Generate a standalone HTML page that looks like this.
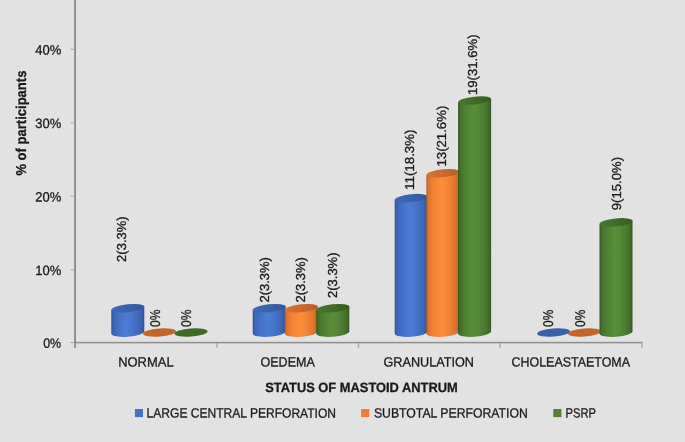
<!DOCTYPE html>
<html><head><meta charset="utf-8"><title>Status of mastoid antrum</title>
<style>
html,body{margin:0;padding:0;background:#e2e2e2;}
body{width:685px;height:442px;overflow:hidden;}
svg{display:block;font-family:"Liberation Sans",Arial,sans-serif;}
text{fill:#1a1a1a;stroke:#1a1a1a;stroke-width:0.3px;text-rendering:geometricPrecision;}
</style></head><body>
<svg width="685" height="442" viewBox="0 0 685 442">
<defs>
<linearGradient id="gb" x1="0" x2="1" y1="0" y2="0"><stop offset="0" stop-color="#2f5196"/><stop offset="0.06" stop-color="#3b64b4"/><stop offset="0.2" stop-color="#4370c6"/><stop offset="0.45" stop-color="#4b7cd4"/><stop offset="0.6" stop-color="#4877cf"/><stop offset="0.85" stop-color="#3d68ba"/><stop offset="0.95" stop-color="#365ca8"/><stop offset="1" stop-color="#2f5094"/></linearGradient>
<linearGradient id="go" x1="0" x2="1" y1="0" y2="0"><stop offset="0" stop-color="#b25d24"/><stop offset="0.06" stop-color="#dd742e"/><stop offset="0.2" stop-color="#f28235"/><stop offset="0.45" stop-color="#fd8c3b"/><stop offset="0.6" stop-color="#f98838"/><stop offset="0.85" stop-color="#e0762e"/><stop offset="0.95" stop-color="#cb6a29"/><stop offset="1" stop-color="#b05c23"/></linearGradient>
<linearGradient id="gg" x1="0" x2="1" y1="0" y2="0"><stop offset="0" stop-color="#2f5220"/><stop offset="0.06" stop-color="#437029"/><stop offset="0.2" stop-color="#4d7f31"/><stop offset="0.45" stop-color="#598d39"/><stop offset="0.6" stop-color="#568a37"/><stop offset="0.85" stop-color="#47772d"/><stop offset="0.95" stop-color="#3d6826"/><stop offset="1" stop-color="#315521"/></linearGradient>
<linearGradient id="tb" x1="0" x2="1" y1="0" y2="0"><stop offset="0" stop-color="#3f68b8"/><stop offset="0.5" stop-color="#3a61ac"/><stop offset="1" stop-color="#33569b"/></linearGradient>
<linearGradient id="to" x1="0" x2="1" y1="0" y2="0"><stop offset="0" stop-color="#d9722e"/><stop offset="0.5" stop-color="#cb6a2a"/><stop offset="1" stop-color="#b85f25"/></linearGradient>
<linearGradient id="tg" x1="0" x2="1" y1="0" y2="0"><stop offset="0" stop-color="#47772d"/><stop offset="0.5" stop-color="#3f6b28"/><stop offset="1" stop-color="#365c21"/></linearGradient>
</defs>
<rect width="685" height="442" fill="#e2e2e2"/>

<rect x="74.15" y="0" width="1.85" height="347.8" fill="#8b8b8b"/>
<rect x="74.3" y="341.85" width="568.2" height="1.5" fill="#8e8e8e"/>
<rect x="70.5" y="48.8" width="4" height="1" fill="#a6a6a6"/>
<rect x="70.5" y="122.3" width="4" height="1" fill="#a6a6a6"/>
<rect x="70.5" y="195.8" width="4" height="1" fill="#a6a6a6"/>
<rect x="70.5" y="269.3" width="4" height="1" fill="#a6a6a6"/>
<rect x="70.5" y="342.0" width="4" height="1" fill="#a6a6a6"/>
<rect x="216.15" y="343" width="1.5" height="4.7" fill="#a9a9a9"/>
<rect x="357.75" y="343" width="1.5" height="4.7" fill="#a9a9a9"/>
<rect x="499.35" y="343" width="1.5" height="4.7" fill="#a9a9a9"/>
<rect x="641.15" y="343" width="1.5" height="4.7" fill="#a9a9a9"/>
<text transform="rotate(0.05 61 49.3)" x="61.2" y="54.6" font-size="13.5" text-anchor="end" textLength="26" lengthAdjust="spacingAndGlyphs">40%</text>
<text transform="rotate(0.05 61 122.8)" x="61.2" y="128.1" font-size="13.5" text-anchor="end" textLength="26" lengthAdjust="spacingAndGlyphs">30%</text>
<text transform="rotate(0.05 61 196.3)" x="61.2" y="201.6" font-size="13.5" text-anchor="end" textLength="26" lengthAdjust="spacingAndGlyphs">20%</text>
<text transform="rotate(0.05 61 269.8)" x="61.2" y="275.1" font-size="13.5" text-anchor="end" textLength="26" lengthAdjust="spacingAndGlyphs">10%</text>
<text transform="rotate(0.05 61 343)" x="61.2" y="347.7" font-size="13.5" text-anchor="end" textLength="18" lengthAdjust="spacingAndGlyphs">0%</text>
<text transform="translate(26.3,175.6) rotate(-90)" font-size="14.3" font-weight="bold" textLength="105" lengthAdjust="spacingAndGlyphs">% of participants</text>
<text transform="rotate(0.05 118.2 366.5)" x="118.2" y="366.5" font-size="13.4" textLength="55.4" lengthAdjust="spacingAndGlyphs">NORMAL</text>
<text transform="rotate(0.05 260.5 366.5)" x="260.5" y="366.5" font-size="13.4" textLength="54.3" lengthAdjust="spacingAndGlyphs">OEDEMA</text>
<text transform="rotate(0.05 383.5 366.5)" x="383.5" y="366.5" font-size="13.4" textLength="90.5" lengthAdjust="spacingAndGlyphs">GRANULATION</text>
<text transform="rotate(0.05 511.5 366.5)" x="511.5" y="366.5" font-size="13.4" textLength="118.5" lengthAdjust="spacingAndGlyphs">CHOLEASTAETOMA</text>
<text transform="rotate(0.05 265 392)" x="265.2" y="391.9" font-size="13.4" font-weight="bold" textLength="192.6" lengthAdjust="spacingAndGlyphs">STATUS OF MASTOID ANTRUM</text>
<rect x="134.9" y="409.0" width="8.1" height="8.1" fill="#4472c4"/>
<text transform="rotate(0.05 146.6 417.5)" x="146.6" y="417.5" font-size="13.4" textLength="189.4" lengthAdjust="spacingAndGlyphs">LARGE CENTRAL PERFORATION</text>
<rect x="361.1" y="409.0" width="8.1" height="8.1" fill="#ed7d31"/>
<text transform="rotate(0.05 373.9 417.5)" x="373.9" y="417.5" font-size="13.4" textLength="153.9" lengthAdjust="spacingAndGlyphs">SUBTOTAL PERFORATION</text>
<rect x="553.3" y="409.0" width="8.1" height="8.1" fill="#548235"/>
<text transform="rotate(0.05 565.6 417.5)" x="565.6" y="417.5" font-size="13.4" textLength="30.4" lengthAdjust="spacingAndGlyphs">PSRP</text>
<path d="M111.30 310.01 L111.30 333.65 A16.55 4.5 -4 0 0 144.30 331.35 L144.30 306.54 Z" fill="url(#gb)"/>
<ellipse cx="127.80" cy="308.28" rx="16.6" ry="3.95" transform="rotate(-6 127.80 308.28)" fill="url(#tb)"/>
<ellipse cx="159.60" cy="332.50" rx="16.55" ry="4.1" transform="rotate(-4.7 159.60 332.50)" fill="#c4652a"/>
<ellipse cx="191.10" cy="332.50" rx="16.55" ry="4.1" transform="rotate(-4.7 191.10 332.50)" fill="#3e6a27"/>
<path d="M252.70 310.01 L252.70 333.65 A16.55 4.5 -4 0 0 285.70 331.35 L285.70 306.54 Z" fill="url(#gb)"/>
<ellipse cx="269.20" cy="308.28" rx="16.6" ry="3.95" transform="rotate(-6 269.20 308.28)" fill="url(#tb)"/>
<path d="M284.80 310.01 L284.80 333.65 A16.55 4.5 -4 0 0 317.80 331.35 L317.80 306.54 Z" fill="url(#go)"/>
<ellipse cx="301.30" cy="308.28" rx="16.6" ry="3.95" transform="rotate(-6 301.30 308.28)" fill="url(#to)"/>
<path d="M316.30 310.01 L316.30 333.65 A16.55 4.5 -4 0 0 349.30 331.35 L349.30 306.54 Z" fill="url(#gg)"/>
<ellipse cx="332.80" cy="308.28" rx="16.6" ry="3.95" transform="rotate(-6 332.80 308.28)" fill="url(#tg)"/>
<path d="M394.70 199.91 L394.70 333.65 A16.55 4.5 -4 0 0 427.70 331.35 L427.70 196.44 Z" fill="url(#gb)"/>
<ellipse cx="411.20" cy="198.18" rx="16.6" ry="3.95" transform="rotate(-6 411.20 198.18)" fill="url(#tb)"/>
<path d="M426.40 174.96 L426.40 333.65 A16.55 4.5 -4 0 0 459.40 331.35 L459.40 171.49 Z" fill="url(#go)"/>
<ellipse cx="442.90" cy="173.22" rx="16.6" ry="3.95" transform="rotate(-6 442.90 173.22)" fill="url(#to)"/>
<path d="M458.10 102.29 L458.10 333.65 A16.55 4.5 -4 0 0 491.10 331.35 L491.10 98.82 Z" fill="url(#gg)"/>
<ellipse cx="474.60" cy="100.56" rx="16.6" ry="3.95" transform="rotate(-6 474.60 100.56)" fill="url(#tg)"/>
<ellipse cx="553.60" cy="332.50" rx="16.55" ry="4.1" transform="rotate(-4.7 553.60 332.50)" fill="#3a60aa"/>
<ellipse cx="584.50" cy="332.50" rx="16.55" ry="4.1" transform="rotate(-4.7 584.50 332.50)" fill="#c4652a"/>
<path d="M599.50 224.14 L599.50 333.65 A16.55 4.5 -4 0 0 632.50 331.35 L632.50 220.66 Z" fill="url(#gg)"/>
<ellipse cx="616.00" cy="222.40" rx="16.6" ry="3.95" transform="rotate(-6 616.00 222.40)" fill="url(#tg)"/>
<text transform="translate(125.8,261.9) rotate(-90)" font-size="13.0" textLength="45.5" lengthAdjust="spacingAndGlyphs">2(3.3%)</text>
<text transform="translate(160.0,327.1) rotate(-90)" font-size="14.2" textLength="17.5" lengthAdjust="spacingAndGlyphs">0%</text>
<text transform="translate(191.2,327.1) rotate(-90)" font-size="14.2" textLength="17.5" lengthAdjust="spacingAndGlyphs">0%</text>
<text transform="translate(268.8,302.6) rotate(-90)" font-size="13.0" textLength="45.5" lengthAdjust="spacingAndGlyphs">2(3.3%)</text>
<text transform="translate(305.3,302.6) rotate(-90)" font-size="13.0" textLength="45.5" lengthAdjust="spacingAndGlyphs">2(3.3%)</text>
<text transform="translate(336.5,298.0) rotate(-90)" font-size="13.0" textLength="45.5" lengthAdjust="spacingAndGlyphs">2(3.3%)</text>
<text transform="translate(413.5,189.9) rotate(-90)" font-size="13.0" textLength="60.4" lengthAdjust="spacingAndGlyphs">11(18.3%)</text>
<text transform="translate(446.2,166.5) rotate(-90)" font-size="13.0" textLength="60.8" lengthAdjust="spacingAndGlyphs">13(21.6%)</text>
<text transform="translate(477.3,95.0) rotate(-90)" font-size="13.0" textLength="60.5" lengthAdjust="spacingAndGlyphs">19(31.6%)</text>
<text transform="translate(553.2,326.9) rotate(-90)" font-size="14.2" textLength="17.3" lengthAdjust="spacingAndGlyphs">0%</text>
<text transform="translate(584.8,326.9) rotate(-90)" font-size="14.2" textLength="17.3" lengthAdjust="spacingAndGlyphs">0%</text>
<text transform="translate(621.3,210.2) rotate(-90)" font-size="13.0" textLength="53.2" lengthAdjust="spacingAndGlyphs">9(15.0%)</text>
</svg></body></html>
